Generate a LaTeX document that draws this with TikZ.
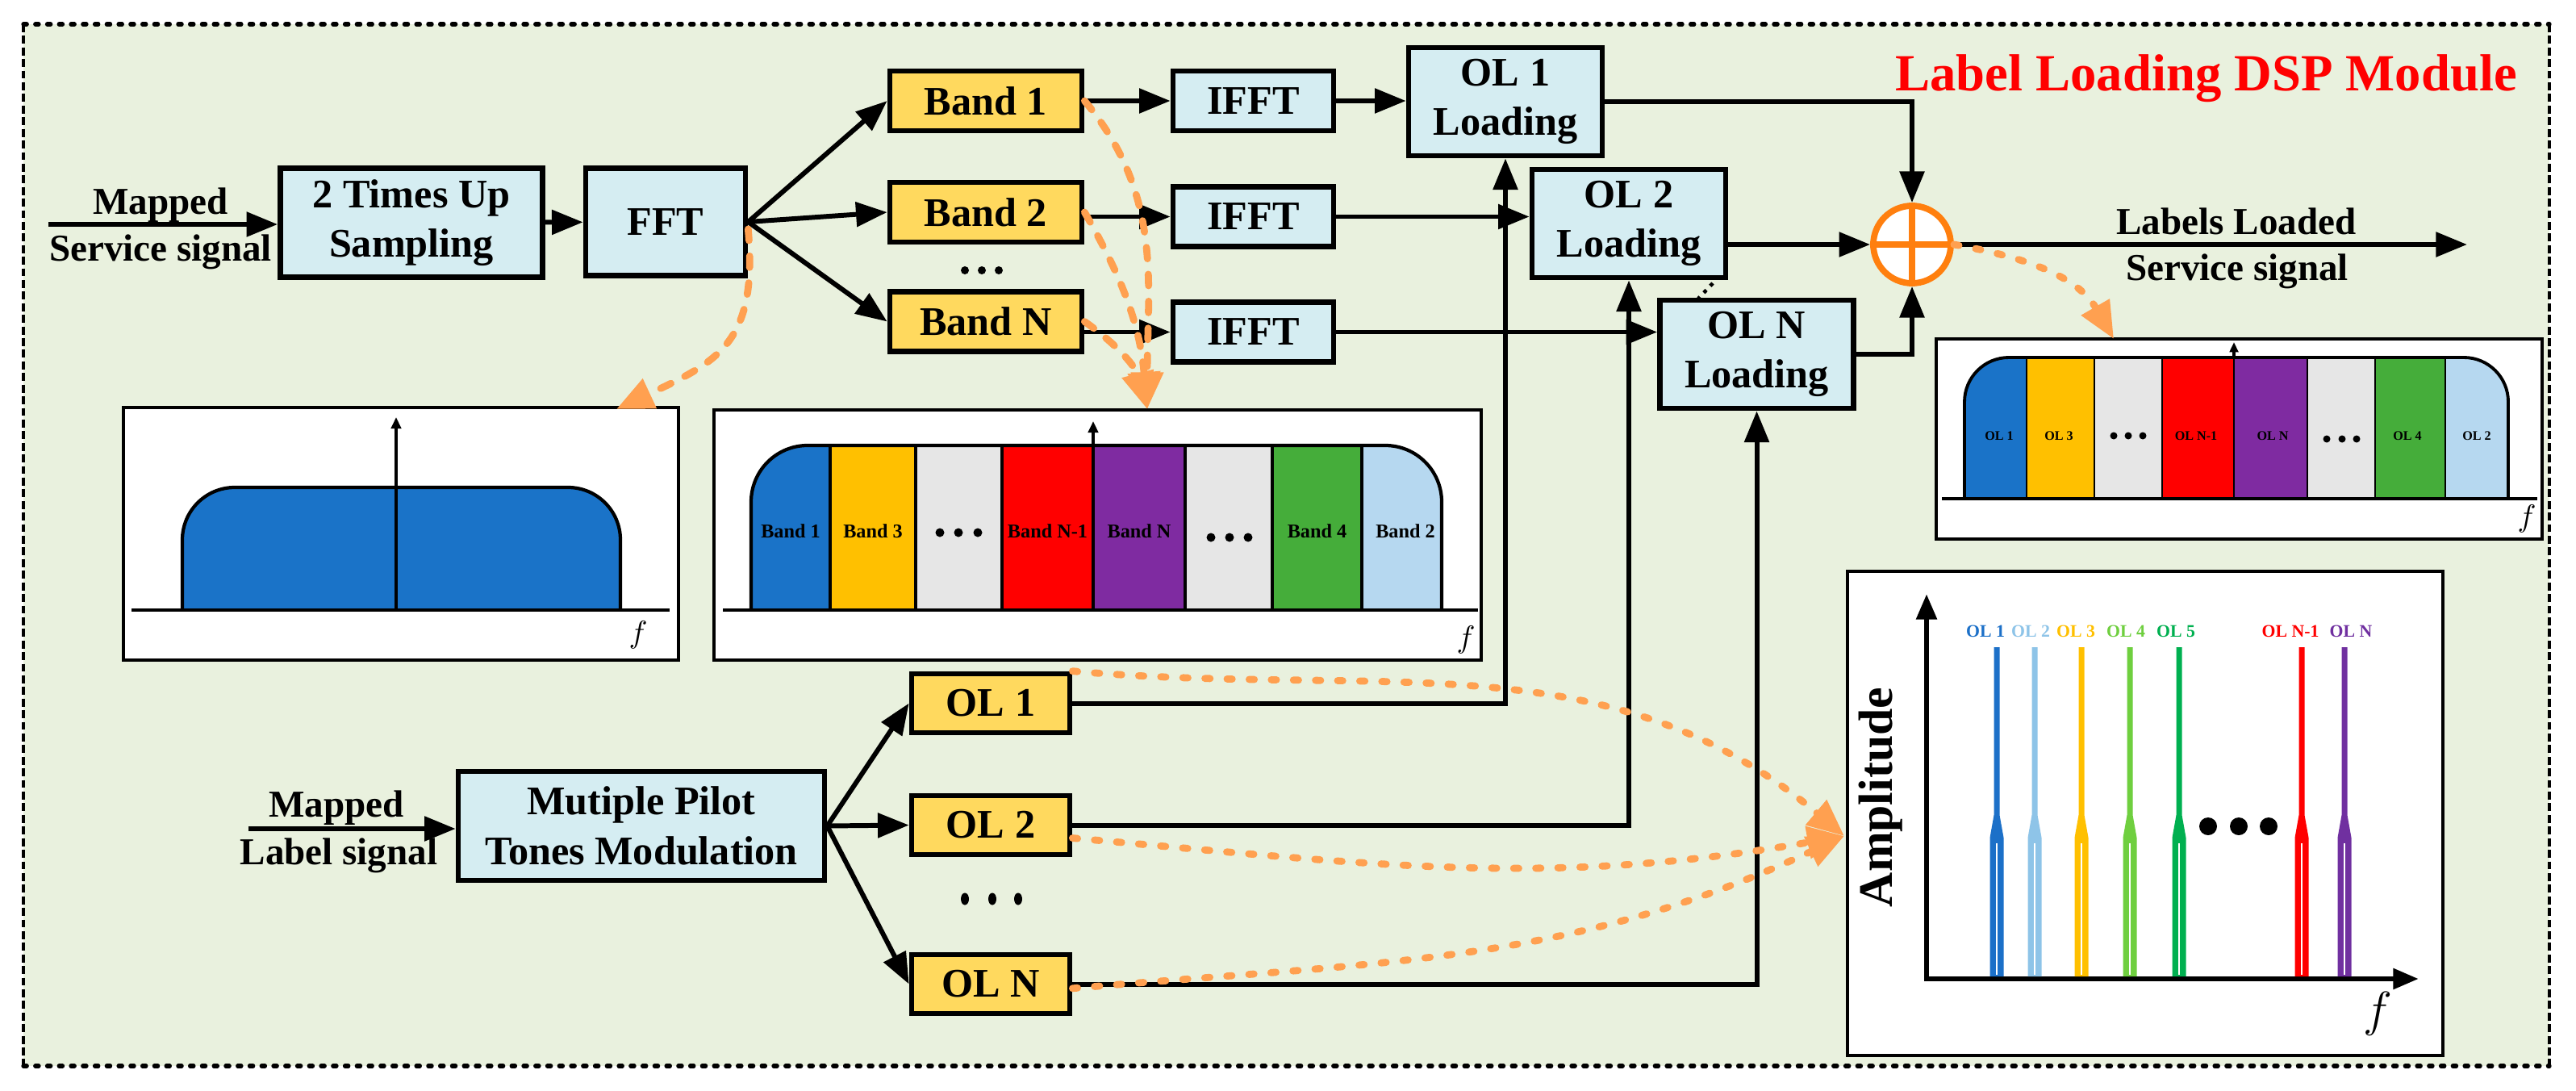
\documentclass[tikz,border=0pt]{standalone}
\usepackage{fontspec}
\setmainfont{Liberation Serif}
\usetikzlibrary{arrows.meta}
\definecolor{frame green}{HTML}{E9F1DE}
\definecolor{box blue}{HTML}{D5EDF2}
\definecolor{box yellow}{HTML}{FFD95E}
\definecolor{hint orange}{HTML}{FFA050}
\definecolor{sum orange}{HTML}{FF7F0E}
\definecolor{bandblue}{HTML}{1A73C8}
\definecolor{bandyellow}{HTML}{FFC000}
\definecolor{bandgrey}{HTML}{E6E6E6}
\definecolor{bandred}{HTML}{FF0000}
\definecolor{bandpurple}{HTML}{7F2BA1}
\definecolor{bandgreen}{HTML}{45AD3A}
\definecolor{bandsky}{HTML}{B6D8F0}
\definecolor{peakblue}{HTML}{1C70C8}
\definecolor{peaksky}{HTML}{8EC4E8}
\definecolor{peaklime}{HTML}{6FCF3F}
\definecolor{peakgreen}{HTML}{00B050}
\definecolor{peakpurple}{HTML}{7030A0}

\begin{document}
\begin{tikzpicture}[
    blockbox/.style={draw, line width=1.9pt, fill=box blue, align=center, inner sep=0pt,
        font=\fontsize{14.3}{17.5}\selectfont\bfseries},
    bandbox/.style={blockbox, fill=box yellow},
    sigtext/.style={anchor=base, font=\fontsize{13.4}{16}\selectfont\bfseries},
    conn/.style={line width=1.7pt, -{Triangle[length=11pt,width=8.5pt]}},
    hint/.style={draw=hint orange, line width=2.5pt, line cap=round,
        dash pattern=on 4pt off 5.5pt, -{Triangle[length=13pt,width=11pt]}},
    hintdots/.style={hint, dash pattern=on 1.8pt off 6pt},
    specbox/.style={draw, fill=white, line width=1pt},
    bandlabel/.style={font=\fontsize{6.9}{8}\selectfont\bfseries},
    ollabel/.style={font=\fontsize{4.6}{5}\selectfont\bfseries},
    peaklabel/.style={anchor=base, font=\fontsize{6.2}{7}\selectfont\bfseries},
    freq/.style={font=\fontsize{11.4}{12}\selectfont}
  ]
    \useasboundingbox (0,0) rectangle (31.93,-13.51);
    % module frame
    \fill[frame green] (0.29,-0.30) rectangle (31.60,-13.21);
    \draw[line width=1.5pt, line cap=round, dash pattern=on 1.2pt off 3pt]
        (0.29,-0.30) -- (31.60,-0.30) (0.29,-13.21) -- (31.60,-13.21);
    \draw[line width=1.1pt, dash pattern=on 2.8pt off 1.3pt]
        (0.29,-0.30) -- (0.29,-13.21) (31.60,-0.30) -- (31.60,-13.21);
    \node[anchor=base, text=red, font=\fontsize{18.4}{22}\selectfont\bfseries] (title) at (27.345,-1.12) {Label Loading DSP Module};

    % service branch
    \node[blockbox, minimum width=3.25cm, minimum height=1.35cm] (up) at (5.10,-2.76) {2 Times Up\\Sampling};
    \node[blockbox, minimum width=1.98cm, minimum height=1.33cm] (fft) at (8.25,-2.75) {FFT};
    \foreach \name/\y in {1/-1.25, 2/-2.63, N/-3.985}{
	\node[bandbox, minimum width=2.38cm, minimum height=0.74cm] (band\name) at (12.22,\y) {Band \name};
	};
    \foreach \name/\y in {1/-1.25, 2/-2.685, N/-4.115}{
	\node[blockbox, minimum width=1.99cm, minimum height=0.74cm] (ifft\name) at (15.535,\y) {IFFT};
	};
    \foreach \name/\x/\y in {1/18.66/-1.26, 2/20.19/-2.77, N/21.775/-4.39}{
	\node[blockbox, minimum width=2.40cm, minimum height=1.34cm] (load\name) at (\x,\y) {OL \name\\Loading};
	};
    \node[circle, draw=sum orange, fill=white, line width=2.2pt, minimum size=0.96cm, inner sep=0pt] (sum) at (23.70,-3.03) {};
    \draw[sum orange, line width=2.2pt] (sum.north) -- (sum.south) (sum.west) -- (sum.east);
    \foreach \x in {11.96,12.17,12.38} \fill (\x,-3.35) circle (0.05);

    % label branch
    \node[blockbox, minimum width=4.54cm, minimum height=1.35cm] (mpt) at (7.95,-10.235) {Mutiple Pilot\\Tones Modulation};
    \foreach \name/\y in {1/-8.715, 2/-10.225, N/-12.195}{
	\node[bandbox, minimum width=1.96cm, minimum height=0.73cm] (ol\name) at (12.28,\y) {OL \name};
	};
    \foreach \x in {11.96,12.30,12.62} \fill (\x,-11.14) ellipse (0.05 and 0.075);

    \coordinate (svcin) at (0.60,-2.78);
    \coordinate (lblin) at (3.08,-10.27);
    \coordinate (svcout) at (30.58,-3.03);
    \node[sigtext] (svcA) at (1.99,-2.65) {Mapped};
    \node[sigtext] (svcB) at (1.99,-3.23) {Service signal};
    \node[sigtext] (lblA) at (4.17,-10.12) {Mapped};
    \node[sigtext] (lblB) at (4.20,-10.71) {Label signal};
    \node[sigtext] (outA) at (27.72,-2.90) {Labels Loaded};
    \node[sigtext] (outB) at (27.73,-3.47) {Service signal};

    \draw[conn] (svcin) -- (svcin -| up.west);
    \draw[conn] (up) -- (fft);
    \foreach \name in {1,2,N}{
	\draw[conn] (fft.east) -- (band\name.west);
	\draw[conn] (ifft\name.west -| band\name.east) -- (ifft\name.west);
	\draw[conn] (ifft\name.east) -- (ifft\name.east -| load\name.west);
	\draw[conn] (mpt.east) -- (ol\name.west);
	\draw[conn] (ol\name.east) -| (load\name.south);
	};
    \draw[conn] (load1.east) -| (sum.north);
    \draw[conn] (sum.west -| load2.east) -- (sum.west);
    \draw[conn] (loadN.east) -| (sum.south);
    \draw[conn] (sum.east) -- (svcout);
    \draw[line width=1.3pt, dotted] (21.23,-3.51) -- (21.05,-3.70);
    \draw[conn] (lblin) -- (lblin -| mpt.west);

    % spectrum after FFT
    \node[specbox, minimum width=6.88cm, minimum height=3.13cm, inner sep=0pt] (spec1) at (4.97,-6.615) {};
    \filldraw[fill=bandblue, line width=1.2pt, rounded corners=0.65cm] (2.26,-7.56) -- (2.26,-6.04) -- (7.69,-6.04) -- (7.69,-7.56);
    \draw[line width=1.4pt] (1.63,-7.56) -- (8.30,-7.56);
    \draw[line width=1pt, -{Triangle[length=4pt,width=3.5pt]}] (4.91,-7.56) -- (4.91,-5.17);
    \node[freq] (f1) at (7.91,-7.87) {$f$};

    % spectrum of the bands
    \node[specbox, minimum width=9.51cm, minimum height=3.10cm, inner sep=0pt] (spec2) at (13.605,-6.63) {};
    \begin{scope}
      \clip[rounded corners=0.70cm] (9.31,-8.6) -- (9.31,-5.52) -- (17.87,-5.52) -- (17.87,-8.6) -- cycle;
      \foreach \xa/\xb/\col in {9.31/10.29/bandblue, 10.29/11.35/bandyellow, 11.35/12.42/bandgrey, 12.42/13.55/bandred,
            13.55/14.69/bandpurple, 14.69/15.77/bandgrey, 15.77/16.88/bandgreen, 16.88/17.87/bandsky}
        \fill[\col] (\xa,-7.56) rectangle (\xb,-5.40);
    \end{scope}
    \draw[line width=1.2pt, rounded corners=0.70cm] (9.31,-7.56) -- (9.31,-5.52) -- (17.87,-5.52) -- (17.87,-7.56);
    \foreach \x in {10.29,11.35,12.42,13.55,14.69,15.77,16.88} \draw[line width=0.9pt] (\x,-7.56) -- (\x,-5.52);
    \foreach \x/\t [count=\i] in {9.80/Band 1, 10.82/Band 3, 12.985/Band N-1, 14.12/Band N, 16.325/Band 4, 17.42/Band 2}
        \node[bandlabel] (bl\i) at (\x,-6.58) {\t};
    \foreach \x in {11.65,11.88,12.12} \fill (\x,-6.60) circle (0.055);
    \foreach \x in {15.01,15.24,15.47} \fill (\x,-6.66) circle (0.055);
    \draw[line width=1.4pt] (8.96,-7.56) -- (18.32,-7.56);
    \draw[line width=1pt, -{Triangle[length=4pt,width=3.5pt]}] (13.55,-5.52) -- (13.55,-5.22);
    \node[freq] (f2) at (18.17,-7.93) {$f$};

    % spectrum after loading
    \node[specbox, minimum width=7.51cm, minimum height=2.48cm, inner sep=0pt] (spec3) at (27.755,-5.44) {};
    \begin{scope}
      \clip[rounded corners=0.55cm] (24.35,-7.2) -- (24.35,-4.43) -- (31.09,-4.43) -- (31.09,-7.2) -- cycle;
      \foreach \xa/\xb/\col in {24.35/25.12/bandblue, 25.12/25.96/bandyellow, 25.96/26.80/bandgrey, 26.80/27.69/bandred,
            27.69/28.60/bandpurple, 28.60/29.44/bandgrey, 29.44/30.31/bandgreen, 30.31/31.09/bandsky}
        \fill[\col] (\xa,-6.18) rectangle (\xb,-4.30);
    \end{scope}
    \draw[line width=1.1pt, rounded corners=0.55cm] (24.35,-6.18) -- (24.35,-4.43) -- (31.09,-4.43) -- (31.09,-6.18);
    \foreach \x in {25.12,25.96,26.80,27.69,28.60,29.44,30.31} \draw[line width=0.8pt] (\x,-6.18) -- (\x,-4.43);
    \foreach \x/\t [count=\i] in {24.78/OL 1, 25.52/OL 3, 27.22/OL N-1, 28.17/OL N, 29.84/OL 4, 30.70/OL 2}
        \node[ollabel] (ql\i) at (\x,-5.40) {\t};
    \foreach \x in {26.20,26.38,26.56} \fill (\x,-5.40) circle (0.045);
    \foreach \x in {28.84,29.03,29.21} \fill (\x,-5.44) circle (0.045);
    \draw[line width=1.3pt] (24.07,-6.18) -- (31.45,-6.18);
    \draw[line width=0.9pt, -{Triangle[length=3.5pt,width=3pt]}] (27.69,-4.43) -- (27.69,-4.24);
    \node[freq] (f3) at (31.32,-6.43) {$f$};

    % pilot tones
    \node[specbox, minimum width=7.38cm, minimum height=6.00cm, inner sep=0pt] (amp) at (26.59,-10.08) {};
    \draw[line width=1.9pt, {Triangle[length=9pt,width=7pt]}-{Triangle[length=9pt,width=7pt]}]
        (23.88,-7.36) -- (23.88,-12.13) -- (29.98,-12.13);
    \node[rotate=90, font=\fontsize{17}{20}\selectfont\bfseries] (amplabel) at (23.31,-9.88) {Amplitude};
    \foreach \x/\col/\lx/\lab [count=\i] in {24.75/peakblue/24.61/OL 1, 25.22/peaksky/25.17/OL 2, 25.80/bandyellow/25.73/OL 3,
            26.40/peaklime/26.35/OL 4, 27.01/peakgreen/26.97/OL 5, 28.53/bandred/28.39/OL N-1, 29.06/peakpurple/29.14/OL N}{
	\fill[\col] (\x-0.085,-12.10) -- (\x-0.085,-10.38) -- (\x-0.035,-10.10) -- (\x-0.035,-8.02)
	    -- (\x+0.035,-8.02) -- (\x+0.035,-10.10) -- (\x+0.085,-10.38) -- (\x+0.085,-12.10) -- cycle;
	\draw[white, line width=0.6pt] (\x,-10.45) -- (\x,-12.08);
	\node[peaklabel, text=\col] (pl\i) at (\lx,-7.89) {\lab};
	};
    \foreach \x in {27.37,27.75,28.12} \fill (\x,-10.24) circle (0.11);
    \node[font=\fontsize{17}{20}\selectfont] (f4) at (29.47,-12.56) {$f$};

    % where each spectrum is taken
    \coordinate (tip1) at (7.64,-5.07);
    \coordinate (tip2) at (14.22,-5.07);
    \coordinate (tip3) at (26.20,-4.20);
    \coordinate (tip4) at (22.86,-10.36);
    \draw[hint] (fft.-5) to[out=-85, in=25, looseness=1.3] (tip1);
    \draw[hint] (band1.east) to[out=-50, in=90] (tip2);
    \draw[hint] (band2.east) to[out=-60, in=95] (tip2);
    \draw[hint] (bandN.east) to[out=-35, in=105] (tip2);
    \draw[hintdots] (sum.east) to[out=-10, in=120] (tip3);
    \draw[hintdots] (ol1.north east) to[out=-5, in=140] (tip4);
    \draw[hintdots] (ol2.-9) to[out=-5, in=190] (tip4);
    \draw[hintdots] (olN.-3) to[out=5, in=205] (tip4);
\end{tikzpicture}
\end{document}
